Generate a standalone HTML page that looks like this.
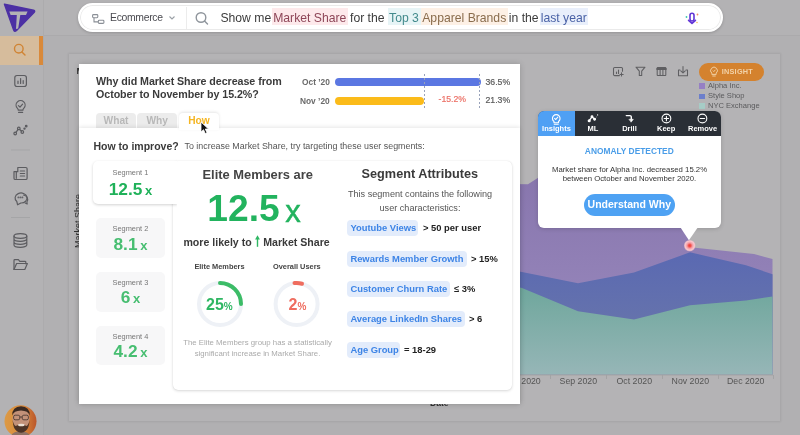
<!DOCTYPE html>
<html><head><meta charset="utf-8">
<style>
*{box-sizing:border-box;margin:0;padding:0}
html,body{width:800px;height:435px;overflow:hidden}
body{background:#b1b0b2;font-family:"Liberation Sans",Arial,sans-serif;position:relative;color:#333}
.a{position:absolute;white-space:nowrap}
#header{left:43px;top:0;width:757px;height:36px;background:#b3b2b4;border-bottom:1px solid #abaaac}
#sidebar{left:0;top:0;width:43.5px;height:435px;background:#b3b2b4;border-right:1px solid #acabad}
#active{left:0;top:36px;width:43px;height:29px;background:#d6bc9c}
#activebar{left:39px;top:36px;width:4px;height:29px;background:#d9893a}
#card{left:69px;top:54px;width:711px;height:367px;background:#b4b3b5;box-shadow:0 0 2px 1px rgba(0,0,0,.07)}
#search{left:78px;top:2.5px;width:644.5px;height:29.5px;background:#fff;border-radius:15px;border:2px solid #fff;box-shadow:inset 0 0 0 1px #eaeaea,0 1px 3px rgba(0,0,0,.18)}
#modal{left:79px;top:64px;width:441px;height:340px;background:#fff;box-shadow:0 0 6px rgba(0,0,0,.18)}
#tooltip{left:538px;top:111px;width:183px;height:116.5px;background:#fff;border-radius:6px;box-shadow:0 1px 4px rgba(0,0,0,.16)}
.xl{top:377.4px;font-size:8.76px;color:#555;transform:translateX(-50%);line-height:1}
#datelbl{left:430px;top:395px;font-size:10px;color:#333;font-weight:bold}
#ylbl{left:74.4px;top:248px;font-size:9px;line-height:1;color:#333;transform-origin:0 0;transform:rotate(-90deg)}
#mtitle{left:76px;font-size:9px;font-weight:bold;color:#333}
.t1{letter-spacing:-0.06px;font-size:11.5px;font-weight:bold;color:#3b3b3b;line-height:13px}
.bl{font-size:9px;font-weight:bold;color:#6a6a6a;line-height:11px}
.pv{-webkit-text-stroke:0.2px currentColor;font-size:10px;color:#5c5c5c;line-height:12px}
.dash{top:74px;width:1px;height:35px;background:repeating-linear-gradient(#98a2ba 0 2px,transparent 2px 4px)}
.tab{top:113px;height:15px;border-radius:4px 4px 0 0;background:#ececec;color:#b8b8b8;font-size:10.2px;font-weight:bold;text-align:center;line-height:16.7px}
#hti{font-size:11.5px;font-weight:bold;color:#3a3a3a}
#hts{font-size:9.5px;color:#555}
#panel{left:173px;top:161px;width:339px;height:229px;background:#fff;border-radius:5px;box-shadow:0 1px 3px rgba(0,0,0,.15),0 0 1px rgba(0,0,0,.12)}
.seg{left:95.8px;width:69.2px;height:39.6px;background:#f7f7f8;border-radius:5px}
.s1bg{left:92.6px;top:161px;width:84.4px;height:43px;background:#fff;box-shadow:0 1px 3px rgba(0,0,0,.18);border-radius:5px 0 0 5px;clip-path:inset(-6px 0 -6px -6px)}
.sl{left:130.4px;transform:translateX(-50%);font-size:7.42px;line-height:1;color:#777}
.sv{left:130.5px;transform:translateX(-50%);font-size:17.3px;line-height:1;font-weight:bold}
.sv span{font-size:13px;margin-left:2.8px}
#ema{font-size:12.5px;font-weight:bold;color:#444}
#big{font-size:37.2px;font-weight:bold;color:#22b35e;line-height:1}
#bigx{font-size:31px;color:#22b35e;line-height:1;-webkit-text-stroke:0.45px #22b35e}
#mlt{font-size:11.5px;font-weight:bold;color:#3a3a3a}
#mlt b{color:#2fb763}
.cl{font-size:8px;font-weight:bold;color:#444}
.pc{font-size:16px;font-weight:bold;line-height:18px}
.pc span{font-size:10px}
#stat{font-size:8px;color:#aaa;text-align:center;line-height:11px}
#sat{font-size:13px;font-weight:bold;color:#3a3a3a}
#sad{font-size:9.5px;color:#555;text-align:center;line-height:14px}
.chip{left:347px;height:16px;padding:0 0 0 3.4px;border-radius:4px;background:#e3ecfb;color:#3d84e6;font-size:9.4px;font-weight:bold;line-height:15.9px}
.cv{font-size:10px;font-weight:bold;color:#222;line-height:12px}
#ecom{font-size:11px;color:#444;line-height:13px}
.sq{font-size:12.2px;line-height:1;color:#3c3c3c}
.hl{top:7.5px;height:17.5px;font-size:12.2px;line-height:20.95px;text-align:center}
.h1{background:#fde9eb;color:#8e4658}
.h2{background:#e7f4f6;color:#428a8c}
.h3{background:#fdf0e5;color:#8a6d4d}
.h4{background:#e9effb;color:#4a62a6}
#tbar{left:538px;top:111px;width:183px;height:25px;background:#2a2f36;border-radius:6px 6px 0 0}
#tins{left:538px;top:111px;width:36.5px;height:25px;background:#4fa0f4;border-radius:6px 0 0 0}
.tl{top:124px;font-size:8.5px;font-weight:bold;color:#fff;transform:translateX(-50%);line-height:10px}
#anom{font-size:10px;font-weight:bold;color:#4a9de8;transform:translateX(-50%);top:146px}
#anomt{font-size:8.5px;color:#333;text-align:center;line-height:9px}
#uw{left:583.8px;top:193.5px;width:91px;height:22px;border-radius:11px;background:#4ea2f3;color:#fff;font-size:10.5px;font-weight:bold;text-align:center;line-height:20px}
#insb{left:699px;top:62.6px;width:65.2px;height:18px;border-radius:9px;background:#d4822e;color:#f2d2a8;font-size:7.3px;font-weight:bold;line-height:18px;padding-left:22.7px;letter-spacing:.25px}
.lg{left:708px;font-size:7.55px;color:#5a5a5c;line-height:1}
#cpanel{left:79px;top:127.5px;width:441px;height:276.5px;background:#fff;box-shadow:0 -1px 4px rgba(0,0,0,.10)}
</style></head>
<body>
<div class="a" id="header"></div>
<div class="a" id="sidebar"></div>
<div class="a" id="active"></div>
<div class="a" id="activebar"></div>

<svg class="a" style="left:0;top:0" width="43" height="300" viewBox="0 0 43 300">
<path d="M4.5 4.2 L33.5 10.3 Q35.5 11 34 12.6 L16.5 30.5 Q14.5 32.2 13.7 30 Z" fill="#4c30a4" stroke="#4c30a4" stroke-width="1.5" stroke-linejoin="round"/>
<path d="M9.3 11.5 L27.6 11.5 L26 15 L20.3 15 L18.2 28.5 L16 29 L16.8 15 L10.6 15 Z" fill="#b3b2b4"/>
<g fill="none" stroke="#d08434" stroke-width="1.4" stroke-linecap="round"><circle cx="18.8" cy="48.7" r="4.3"/><path d="M21.9 51.9 L25 55"/></g>
<g fill="none" stroke="#5c5c60" stroke-width="1.2" stroke-linecap="round" stroke-linejoin="round">
<rect x="14.8" y="75.5" width="11.6" height="11" rx="2.2"/><path d="M18 83.5 v-2.5 M20.6 83.5 v-5 M23.2 83.5 v-3"/>
<path d="M17.3 108.2 a4.5 4.5 0 1 1 6.6 0 q-1 1 -1 2 h-4.6 q0 -1 -1 -2 Z"/><path d="M18.6 112.4 h4"/><path d="M18.4 105.6 l1.6 1.6 l2.6 -3"/>
<path d="M16 132.4 L18.1 129.4 M19.6 129.5 L21.5 131"/><circle cx="15.2" cy="133.5" r="1.3"/><circle cx="18.8" cy="128.4" r="1.3"/><circle cx="22.3" cy="132" r="1.3"/><circle cx="24.5" cy="128.6" r="0.6" fill="#5c5c60"/><circle cx="26.2" cy="126.2" r="0.8" fill="#5c5c60"/>
<path d="M18 167.5 h7.8 a1.3 1.3 0 0 1 1.3 1.3 v9.4 a1.3 1.3 0 0 1 -1.3 1.3 h-10.5 a1.3 1.3 0 0 1 -1.3 -1.3 v-6.5 h3.8 v-4.2 Z"/><path d="M20.3 171 h4.3 M20.3 173.5 h4.3 M20.3 176 h4.3"/><path d="M16.3 171.8 v6.5"/>
<path d="M16.8 201.5 a6 5 0 1 1 4 1.5 l-3.2 1.8 Z"/><path d="M23.5 195 a5.2 4.6 0 0 1 3.4 7 l0.3 2 l-2 -1"/><circle cx="18.4" cy="197.4" r="0.35" fill="#5c5c60"/><circle cx="20.4" cy="197.4" r="0.35" fill="#5c5c60"/><circle cx="22.4" cy="197.4" r="0.35" fill="#5c5c60"/>
<ellipse cx="20.4" cy="236" rx="6.4" ry="2.3"/><path d="M14 236 v9 a6.4 2.3 0 0 0 12.8 0 v-9 M14 239 a6.4 2.3 0 0 0 12.8 0 M14 242 a6.4 2.3 0 0 0 12.8 0"/>
<path d="M14 269.5 v-9 a0.8 0.8 0 0 1 0.8 -0.8 h3.6 l1.4 1.6 h5.2 a0.8 0.8 0 0 1 0.8 0.8 v1.7"/><path d="M14 269.5 l2.6 -6 h10.8 l-2.6 6 Z"/>
</g>
<g stroke="#a5a5a7" stroke-width="1"><path d="M11 150 h19 M11 217.5 h19"/></g>
</svg>
<svg class="a" style="left:4px;top:404.5px" width="33" height="33" viewBox="0 0 33 33">
<defs><clipPath id="av"><circle cx="16.5" cy="16.3" r="16"/></clipPath>
<linearGradient id="avg" x1="0" y1="0" x2="1" y2="0"><stop offset="0" stop-color="#dc9a45"/><stop offset="0.6" stop-color="#d9893a"/><stop offset="1" stop-color="#b9542a"/></linearGradient></defs>
<g clip-path="url(#av)">
<rect width="33" height="33" fill="url(#avg)"/>
<path d="M6 33 q1 -6 10.5 -7 q9.5 1 10.5 7 Z" fill="#8e7264"/>
<ellipse cx="17" cy="13.5" rx="8.6" ry="10.6" fill="#c29179"/>
<path d="M8.2 10.5 q0 -9 8.8 -9.2 q8.8 0.2 8.8 9.2 q-1.5 -4.8 -8.8 -5 q-7.3 0.2 -8.8 5 Z" fill="#3b2a22"/>
<path d="M8.6 15 q0.5 8 3.5 10.5 q2.5 2.3 5 2.3 q2.5 0 5 -2.3 q3 -2.5 3.5 -10.5 q-1 5 -3 6 q-2.5 -1.6 -5.5 -1.6 q-3 0 -5.5 1.6 q-2 -1 -3 -6 Z" fill="#4d3427"/>
<ellipse cx="17.3" cy="20" rx="3.3" ry="1.3" fill="#eadfd4"/>
<g fill="none" stroke="#3a2c28" stroke-width="0.75"><rect x="9.6" y="10.2" width="6.2" height="4.6" rx="1.6"/><rect x="18.2" y="10.2" width="6.2" height="4.6" rx="1.6"/><path d="M15.8 12 h2.4"/></g>
</g></svg>
<div class="a" id="card"></div>


<svg class="a" style="left:605px;top:60px" width="90" height="22" viewBox="605 60 90 22" fill="none" stroke="#5f5f62" stroke-width="1.05" stroke-linejoin="round" stroke-linecap="round">
<path d="M621 67.4 h-6.3 a1.2 1.2 0 0 0 -1.2 1.2 v5.8 a1.2 1.2 0 0 0 1.2 1.2 h4.7 M621.3 67.4 a1.2 1.2 0 0 1 1.2 1.2 v2.6"/><path d="M616.5 73.5 v-1.5 M618.5 73.5 v-3.5"/><path d="M621.5 72.8 v3.2 M620 74.4 h3.2"/>
<path d="M636 67.2 h9 l-3.3 4 v4.3 h-2.4 v-4.3 Z"/>
<rect x="657.2" y="67.4" width="8.6" height="8" rx="0.5"/><path d="M657.2 69 h8.6" stroke-width="2"/><path d="M660.1 69 v6.4 M662.9 69 v6.4"/>
<path d="M680 70 h-1.5 v5.7 h9 v-5.7 h-1.5"/><path d="M683 66.5 v6.3 M680.8 70.8 l2.2 2.2 l2.2 -2.2"/>
</svg>
<div class="a" id="insb"><svg width="10" height="12" viewBox="0 0 10 12" style="position:absolute;left:9.5px;top:3.5px" fill="none" stroke="#f0cfa3" stroke-width="1"><path d="M2.8 7.2 a3.4 3.4 0 1 1 4.4 0 v1.2 h-4.4 Z M3.3 10 h3.4"/><path d="M3.8 4.6 l1 1 l1.6 -1.8"/></svg>INSIGHT</div>
<div class="a" style="left:699.4px;top:83.3px;width:5.5px;height:5.5px;background:#9680c4"></div><div class="a lg" id="lg1" style="top:82.41px">Alpha Inc.</div>
<div class="a" style="left:699.4px;top:93.6px;width:5.5px;height:5.5px;background:#6c7fcb"></div><div class="a lg" id="lg2" style="top:92.21px">Style Shop</div>
<div class="a" style="left:699.4px;top:103.3px;width:5.5px;height:5.5px;background:#a6ccc6"></div><div class="a lg" id="lg3" style="top:102.11px">NYC Exchange</div>

<svg class="a" id="chart" style="left:0;top:0" width="800" height="435" viewBox="0 0 800 435">
<defs>
<linearGradient id="gp" x1="0" y1="0" x2="0" y2="1"><stop offset="0" stop-color="#8573ab"/><stop offset="1" stop-color="#9c8cc0"/></linearGradient>
<linearGradient id="gb" x1="0" y1="0" x2="0" y2="1"><stop offset="0" stop-color="#5a69b2"/><stop offset="1" stop-color="#6e7aa8"/></linearGradient>
<linearGradient id="gt" x1="0" y1="0" x2="0" y2="1"><stop offset="0" stop-color="#6da69b"/><stop offset="1" stop-color="#96b6b7"/></linearGradient>
</defs>
<polygon fill="url(#gp)" points="500,184 528,184.3 578,152 634,150 688.5,238 693,247.5 754,254 772.5,259 772.5,374.7 500,374.7"/>
<polygon fill="url(#gb)" points="500,268 522,272 578,283.3 634,272.6 690,252.3 746,265.3 772.5,274.2 772.5,374.7 500,374.7"/>
<polygon fill="url(#gt)" points="500,283 522,288 578,311.2 634,319.6 690,305.3 746,300.5 772.5,296.4 772.5,374.7 500,374.7"/>
<g stroke="#a3a3a4" stroke-width="1">
<line x1="500" y1="375" x2="773" y2="375"/>
<line x1="550.5" y1="375" x2="550.5" y2="379"/>
<line x1="606.5" y1="375" x2="606.5" y2="379"/>
<line x1="662.5" y1="375" x2="662.5" y2="379"/>
<line x1="718.5" y1="375" x2="718.5" y2="379"/>
<line x1="773.5" y1="375" x2="773.5" y2="379"/>
</g>
</svg>
<div class="a xl" style="left:522px">Aug 2020</div>
<div class="a xl" style="left:578.3px">Sep 2020</div>
<div class="a xl" style="left:634.3px">Oct 2020</div>
<div class="a xl" style="left:690.3px">Nov 2020</div>
<div class="a xl" style="left:745.7px">Dec 2020</div>
<div class="a" id="datelbl" style="font-size:8.6px;line-height:1;top:398.72px">Date</div>
<div class="a" id="ylbl">Market Share</div>
<div class="a" id="mtitle" style="font-size:9px;line-height:1;top:66.6px;left:76.6px">M</div>
<div class="a" id="search"></div>

<svg class="a" style="left:90px;top:10px" width="16" height="16" viewBox="0 0 16 16" fill="none" stroke="#8a8f96" stroke-width="1.1">
<rect x="2.6" y="4.6" width="5.2" height="3.1" rx="0.9"/><rect x="8.3" y="10.3" width="5.6" height="3.1" rx="0.9"/><path d="M4 7.7 V11.9 H8.3"/>
</svg>
<div class="a" id="ecom" style="left:110px;top:12.7px;font-size:10.4px;line-height:1;letter-spacing:-0.3px;color:#4a4a50">Ecommerce</div>
<svg class="a" style="left:167px;top:14px" width="10" height="8" viewBox="0 0 10 8" fill="none" stroke="#9aa0a6" stroke-width="1.1"><path d="M2.5 2.5 L5 5 L7.5 2.5"/></svg>
<div class="a" style="left:186px;top:7px;width:1px;height:22px;background:#ececec"></div>
<svg class="a" style="left:194px;top:10px" width="16" height="16" viewBox="0 0 16 16" fill="none" stroke="#8f959c" stroke-width="1.4"><circle cx="7" cy="7.5" r="4.8"/><path d="M10.5 11 L13.5 14" stroke-linecap="round"/></svg>
<div class="a sq" id="sq1" style="left:220.4px;top:11.87px">Show me</div>
<div class="a hl h1" id="sq2" style="left:272px;width:75.5px">Market Share</div>
<div class="a sq" id="sq3" style="left:350px;top:11.87px">for the</div>
<div class="a hl h2" id="sq4" style="left:387.5px;width:33px">Top 3</div>
<div class="a hl h3" id="sq5" style="left:420.5px;width:87.5px">Apparel Brands</div>
<div class="a sq" id="sq6" style="left:508.8px;top:11.87px">in the</div>
<div class="a hl h4" id="sq7" style="left:539.5px;width:48.5px">last year</div>
<svg class="a" style="left:683px;top:10px" width="18" height="16" viewBox="0 0 18 16">
<rect x="7" y="3.3" width="4" height="7.7" rx="2" fill="none" stroke="#6236d6" stroke-width="1.6"/>
<path d="M5.6 10.3 L9 13.3 L12.4 10.3" fill="none" stroke="#6236d6" stroke-width="1.7" stroke-linecap="round" stroke-linejoin="round"/>
<circle cx="3.5" cy="7" r="0.9" fill="#3cc9b0"/><circle cx="14.5" cy="4.5" r="0.9" fill="#f08a6a"/><circle cx="14" cy="12.5" r="0.8" fill="#f4c060"/>
</svg>
<div class="a" id="modal"></div>

<div class="a t1" id="q1" style="left:96px;top:76.44px;font-size:10.7px;line-height:1">Why did Market Share decrease from</div>
<div class="a t1" id="q2" style="left:96px;top:89.19px;font-size:10.7px;line-height:1">October to November by 15.2%?</div>
<div class="a bl" id="oct" style="left:302px;top:78.33px;font-size:8.35px;line-height:1">Oct &#8217;20</div>
<div class="a bl" id="nov" style="left:300px;top:96.73px;font-size:8.35px;line-height:1">Nov &#8217;20</div>
<div class="a" style="left:334.5px;top:78px;width:146px;height:8.3px;border-radius:4.2px;background:#5b77e2"></div>
<div class="a" style="left:334.5px;top:96.8px;width:89.5px;height:8.3px;border-radius:4.2px;background:#fbbb1a"></div>
<div class="a dash" style="left:424px"></div>
<div class="a dash" style="left:479px"></div>
<div class="a pv" id="p1" style="left:485.5px;top:77.89px;font-size:8.7px;line-height:1">36.5%</div>
<div class="a pv" id="p2" style="left:485.5px;top:95.89px;font-size:8.7px;line-height:1">21.3%</div>
<div class="a pv" id="p3" style="left:438.5px;top:95.14px;color:#ec7268;font-size:8.7px;line-height:1">-15.2%</div>
<div class="a tab" id="tw" style="left:96px;width:40px">What</div>
<div class="a tab" id="ty" style="left:137.3px;width:39.7px">Why</div>
<div class="a" id="cpanel"></div>
<div class="a tab" id="th" style="left:178.8px;width:40.2px;height:17px;background:#fff;color:#f5b623;box-shadow:0 -1px 3px rgba(0,0,0,.10)">How</div>
<svg class="a" style="left:200px;top:121px" width="10" height="14" viewBox="0 0 10 14"><path d="M1 1 L1 11 L3.5 8.7 L5.3 12.6 L7 11.8 L5.3 8 L8.5 8 Z" fill="#111" stroke="#fff" stroke-width="0.8"/></svg>
<div class="a" id="hti" style="left:93.5px;top:141.11px;font-size:10.5px;line-height:1">How to improve?</div>
<div class="a" id="hts" style="left:184.5px;top:142.47px;font-size:8.9px;line-height:1">To increase Market Share, try targeting these user segments:</div>
<div class="a" id="panel"></div>
<div class="a s1bg"></div>
<div class="a seg" style="top:218px"></div>
<div class="a seg" style="top:272px"></div>
<div class="a seg" style="top:325.8px"></div>
<div class="a sl" id="sl1" style="top:169.22px">Segment 1</div>
<div class="a sv" id="sv1" style="top:180.96px;color:#1fb159">12.5<span>x</span></div>
<div class="a sl" id="sl2" style="top:224.92px">Segment 2</div>
<div class="a sv" id="sv2" style="top:235.96px;color:#47be71">8.1<span>x</span></div>
<div class="a sl" id="sl3" style="top:279.22px">Segment 3</div>
<div class="a sv" id="sv3" style="top:288.96px;color:#47be71">6<span>x</span></div>
<div class="a sl" id="sl4" style="top:333.42px">Segment 4</div>
<div class="a sv" id="sv4" style="top:342.56px;color:#47be71">4.2<span>x</span></div>
<div class="a" id="ema" style="left:202.5px;top:168.9px;font-size:12.9px;line-height:1">Elite Members are</div>
<div class="a" id="big" style="left:207.3px;top:190.1px">12.5</div><div class="a" id="bigx" style="left:285.2px;top:195.6px">x</div>
<div class="a" id="mlt" style="left:183.4px;top:235.3px;font-size:10.6px;line-height:1">more likely to <svg width="5" height="12" viewBox="0 0 5 12" style="display:inline-block;vertical-align:-1.2px;margin:0 0 0 0.6px"><path d="M2.5 11.8 V3" stroke="#2fb763" stroke-width="1.4"/><path d="M0.1 4.4 L2.5 0.3 L4.9 4.4 Z" fill="#2fb763"/></svg> Market Share</div>
<div class="a cl" id="cl1" style="left:194.4px;top:263.14px;font-size:7.4px;line-height:1">Elite Members</div>
<div class="a cl" id="cl2" style="left:273px;top:263.14px;font-size:7.4px;line-height:1">Overall Users</div>
<svg class="a" style="left:190px;top:274px" width="130" height="60" viewBox="190 274 130 60">
<circle cx="220" cy="304" r="21" fill="none" stroke="#eef1f6" stroke-width="4"/>
<circle cx="296.6" cy="304" r="21" fill="none" stroke="#eef1f6" stroke-width="4"/>
<path d="M220 283 A21 21 0 0 1 241 304" fill="none" stroke="#3cbc67" stroke-width="4" stroke-linecap="round"/>
<path d="M294.5 283.1 A21 21 0 0 1 302 283.7" fill="none" stroke="#ef6d5f" stroke-width="4" stroke-linecap="round"/>
</svg>
<div class="a pc" id="pc1" style="left:206px;top:296px;color:#2fb763">25<span>%</span></div>
<div class="a pc" id="pc2" style="left:288.6px;top:296px;color:#ef6d5f">2<span>%</span></div>
<div class="a" id="stat" style="left:176px;top:336.8px;width:163px;font-size:7.8px;line-height:11px">The Elite Members group has a statistically<br>significant increase in Market Share.</div>
<div class="a" id="sat" style="left:361.6px;top:168.25px;font-size:12.7px;line-height:1">Segment Attributes</div>
<div class="a" id="sad" style="left:340px;top:186.85px;width:160px;font-size:9.1px;line-height:14px">This segment contains the following<br>user characteristics:</div>
<div class="a chip" id="c1" style="top:220px;width:71.4px">Youtube Views</div><div class="a cv" id="v1" style="left:423px;top:223.44px;font-size:9.4px;line-height:1">&gt; 50 per user</div>
<div class="a chip" id="c2" style="top:251px;width:120px">Rewards Member Growth</div><div class="a cv" id="v2" style="left:471px;top:254.04px;font-size:9.4px;line-height:1">&gt; 15%</div>
<div class="a chip" id="c3" style="top:281px;width:103px">Customer Churn Rate</div><div class="a cv" id="v3" style="left:454px;top:284.44px;font-size:9.4px;line-height:1">&#8804; 3%</div>
<div class="a chip" id="c4" style="top:311px;width:118px">Average LinkedIn Shares</div><div class="a cv" id="v4" style="left:469px;top:314.04px;font-size:9.4px;line-height:1">&gt; 6</div>
<div class="a chip" id="c5" style="top:341.6px;width:52.6px">Age Group</div><div class="a cv" id="v5" style="left:404px;top:345.04px;font-size:9.4px;line-height:1">= 18-29</div>
<div class="a" id="tooltip"></div>

<div class="a" id="tbar"></div>
<div class="a" id="tins"></div>
<svg class="a" style="left:538px;top:111px" width="183" height="25" viewBox="538 111 183 25" fill="none" stroke="#fff" stroke-width="1.1" stroke-linecap="round" stroke-linejoin="round">
<path d="M554 121.5 a3.8 3.8 0 1 1 4.5 0 v1.3 h-4.5 Z"/><path d="M554.3 124.2 h3.9"/><path d="M554.6 118.3 l1.2 1.2 l2 -2.4"/>
<path d="M589.2 120.7 L592 116.8 L594.6 119.3" stroke-width="1.3"/><circle cx="589.2" cy="120.7" r="1" fill="#fff"/><circle cx="592" cy="116.8" r="0.9" fill="#fff"/><circle cx="594.6" cy="119.3" r="0.9" fill="#fff"/><circle cx="596.3" cy="116.9" r="0.45" fill="#fff" stroke="none"/><circle cx="597.6" cy="114.9" r="0.6" fill="#fff" stroke="none"/>
<path d="M626.3 115.6 h3.6 a1.4 1.4 0 0 1 1.4 1.4 v2" stroke-width="1.4"/><path d="M629.3 119.3 h4 l-2 2.6 Z" fill="#fff" stroke-width="0.6"/>
<circle cx="666.4" cy="118.5" r="4.4"/><path d="M666.4 116.3 v4.4 M664.2 118.5 h4.4"/>
<circle cx="702.4" cy="118.5" r="4.4"/><path d="M700.2 118.5 h4.4"/>
</svg>
<div class="a tl" id="l1" style="left:556.5px;font-size:7.5px;line-height:1;top:124.65px">Insights</div>
<div class="a tl" id="l2" style="left:593px;font-size:7.5px;line-height:1;top:124.65px">ML</div>
<div class="a tl" id="l3" style="left:629.5px;font-size:7.5px;line-height:1;top:124.65px">Drill</div>
<div class="a tl" id="l4" style="left:666.2px;font-size:7.5px;line-height:1;top:124.65px">Keep</div>
<div class="a tl" id="l5" style="left:702.6px;font-size:7.5px;line-height:1;top:124.65px">Remove</div>
<div class="a" id="anom" style="left:629.3px;top:147.39px;font-size:8.4px;line-height:1">ANOMALY DETECTED</div>
<div class="a" id="anomt" style="left:538px;top:165.9px;width:183px;font-size:7.75px;line-height:8.8px">Market share for Alpha Inc. decreased 15.2%<br>between October and November 2020.</div>
<div class="a" id="uw">Understand Why</div>
<svg class="a" style="left:676px;top:224px" width="28" height="30" viewBox="676 224 28 30">
<path d="M679.5 226 L698.8 226 L688.9 240.3 Z" fill="#fff"/>
<defs><radialGradient id="dg"><stop offset="0" stop-color="#f03a35"/><stop offset="0.22" stop-color="#f2524d"/><stop offset="0.48" stop-color="#f59aa2"/><stop offset="0.8" stop-color="#f8c8ce"/><stop offset="1" stop-color="#f7c3cb" stop-opacity="0.6"/></radialGradient></defs>
<circle cx="689.7" cy="245.6" r="5.7" fill="url(#dg)"/>
</svg>
</body></html>
